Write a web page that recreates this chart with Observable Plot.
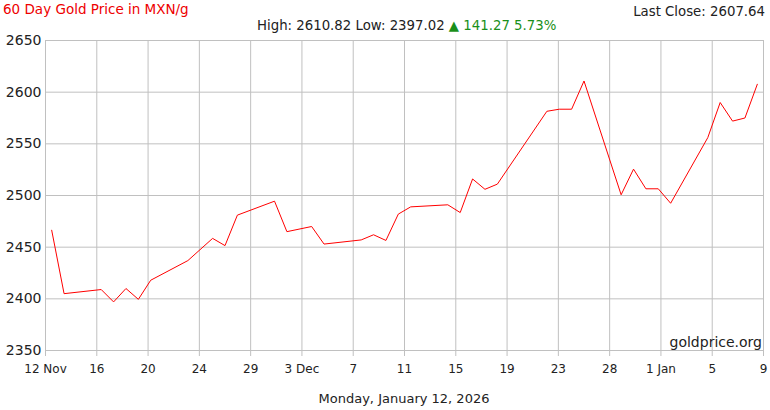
<!DOCTYPE html>
<html><head><meta charset="utf-8">
<script src="https://cdn.jsdelivr.net/npm/d3@7"></script>
<script src="https://cdn.jsdelivr.net/npm/@observablehq/plot@0.6"></script>
<style>
body{margin:0;background:#fff;}
#wrap{position:relative;width:770px;height:410px;font-family:"DejaVu Sans",Verdana,sans-serif;}
#wrap svg{position:absolute;left:0;top:0;}
</style>
</head><body><div id="wrap"></div>
<script>
const dates = ["2025-11-13","2025-11-14","2025-11-17","2025-11-18","2025-11-19","2025-11-20","2025-11-21",
  "2025-11-24","2025-11-26","2025-11-27","2025-11-28","2025-12-01","2025-12-02","2025-12-04","2025-12-05",
  "2025-12-08","2025-12-09","2025-12-10","2025-12-11","2025-12-12","2025-12-15","2025-12-16","2025-12-17",
  "2025-12-18","2025-12-19","2025-12-23","2025-12-24","2025-12-25","2025-12-26","2025-12-29","2025-12-30",
  "2025-12-31","2026-01-01","2026-01-02","2026-01-05","2026-01-06","2026-01-07","2026-01-08","2026-01-09"];
const prices = [2466.37,2405,2409,2397.02,2410,2399.5,2418,
  2437,2458.5,2451.5,2481,2494.5,2465,2470,2453,
  2457,2462,2456.5,2482,2489,2491,2483.5,2516,
  2506,2511,2581.5,2583.5,2583.5,2610.82,2500.7,2525.5,
  2506.5,2506.5,2492.5,2556,2590,2572,2575,2607.64];
const xTickLabels = ["12 Nov","16","20","24","29","3 Dec","7","11","15","19","23","28","1 Jan","5","9"];
const yTicks = [2350,2400,2450,2500,2550,2600,2650];
const xStart = "2025-11-12T12:00:00Z";
const xEnd = "2026-01-09T12:00:00Z";
const titleText = "60 Day Gold Price in MXN/g";
const lastCloseText = "Last Close: 2607.64";
const statsText = "High: 2610.82 Low: 2397.02 ";
const changeText = "\u25B2 141.27 5.73%";
const sourceText = "goldprice.org";
const dateText = "Monday, January 12, 2026";

const data = dates.map((d, i) => ({date: new Date(d + "T00:00:00Z"), price: prices[i]}));
const start = new Date(xStart), end = new Date(xEnd);
const xTicks = xTickLabels.map((_, i) => new Date(+start + i * (end - start) / (xTickLabels.length - 1)));
const labelOf = new Map(xTicks.map((t, i) => [+t, xTickLabels[i]]));
const grid = "#c0c0c0";

const chart = Plot.plot({
  width: 770, height: 410,
  marginTop: 40, marginRight: 7, marginBottom: 60, marginLeft: 45,
  style: {fontFamily: "'DejaVu Sans', sans-serif", background: "transparent", color: "#222"},
  x: {type: "utc", domain: [start, end]},
  y: {domain: [2350, 2650]},
  marks: [
    Plot.gridY(yTicks, {stroke: grid, strokeOpacity: 1}),
    Plot.gridX(xTicks, {stroke: grid, strokeOpacity: 1}),
    Plot.axisX(xTicks, {tickSize: 6, stroke: grid, strokeOpacity: 1, tickPadding: 8, fontSize: 12, fill: "#222",
      tickFormat: d => labelOf.get(+d), label: null}),
    Plot.axisY(yTicks, {tickSize: 0, tickPadding: 4, fontSize: 14, fill: "#222", tickFormat: d => String(d), label: null}),
    Plot.line(data, {x: "date", y: "price", stroke: "#ff0000", strokeWidth: 1})
  ]
});
const wrap = document.getElementById("wrap");
wrap.appendChild(chart);

const ov = d3.select(wrap).append("svg").attr("width", 770).attr("height", 410)
  .style("font-family", "'DejaVu Sans', sans-serif");
ov.append("text").attr("x", 3).attr("y", 14).attr("font-size", 13.5).attr("fill", "#ee0000").text(titleText);
ov.append("text").attr("x", 765).attr("y", 16).attr("text-anchor", "end").attr("font-size", 13.3).attr("fill", "#222").text(lastCloseText);
const st = ov.append("text").attr("x", 257).attr("y", 30).attr("font-size", 13.3).attr("fill", "#222");
st.append("tspan").text(statsText);
st.append("tspan").attr("fill", "#1a8f1a").text(changeText);
ov.append("text").attr("x", 762).attr("y", 347).attr("text-anchor", "end").attr("font-size", 14).attr("fill", "#222").text(sourceText);
ov.append("text").attr("x", 404).attr("y", 403).attr("text-anchor", "middle").attr("font-size", 13).attr("fill", "#222").text(dateText);
</script>
</body></html>
